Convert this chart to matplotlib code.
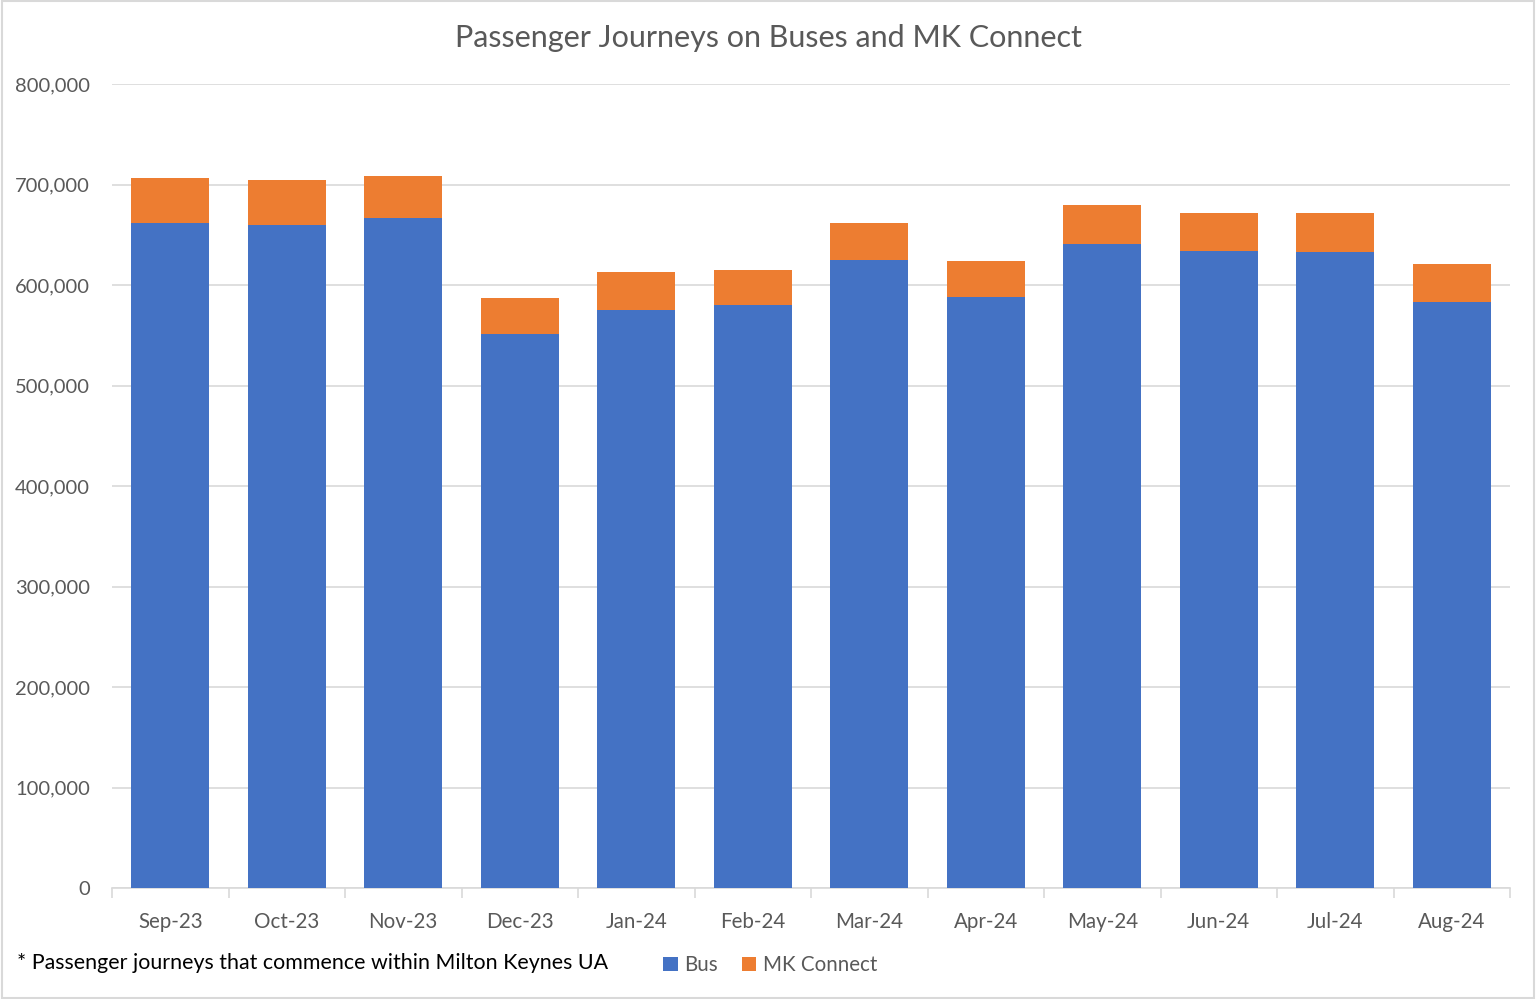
import numpy as np
import matplotlib.pyplot as plt
from matplotlib.ticker import FuncFormatter, FixedLocator
from matplotlib.patches import Rectangle

# data
months = ['Sep-23', 'Oct-23', 'Nov-23', 'Dec-23', 'Jan-24', 'Feb-24',
          'Mar-24', 'Apr-24', 'May-24', 'Jun-24', 'Jul-24', 'Aug-24']
bus = [662000, 660000, 667000, 551000, 575000, 580000,
       625000, 588000, 641000, 634000, 633000, 583000]
mk_connect = [44000, 44000, 41000, 36000, 38000, 35000,
              37000, 36000, 39000, 38000, 39000, 38000]

plt.rcParams['font.family'] = ['Lato', 'DejaVu Sans']

fig = plt.figure(figsize=(15.36, 9.99), dpi=100)
ax = fig.add_axes([112/1536, 1 - 888/999, (1510-112)/1536, (888-84)/999])

x = np.arange(len(months))
ax.bar(x, bus, width=0.67, color='#4472c4', label='Bus', zorder=3)
ax.bar(x, mk_connect, width=0.67, bottom=bus, color='#ed7d31',
       label='MK Connect', zorder=3)

ax.set_xlim(-0.5, len(months) - 0.5)
ax.set_ylim(0, 800000)
ax.set_yticks(np.arange(0, 800001, 100000))
ax.yaxis.set_major_formatter(FuncFormatter(lambda v, p: f'{int(v):,}'))
ax.grid(axis='y', color='#d9d9d9', linewidth=1.2, zorder=0)

ax.set_xticks(x)
ax.set_xticklabels(months)
ax.xaxis.set_minor_locator(FixedLocator(np.arange(-0.5, len(months), 1)))
ax.tick_params(axis='x', which='major', length=0, pad=17,
               labelsize=14.8, labelcolor='#595959')
ax.tick_params(axis='x', which='minor', length=7, color='#d9d9d9', width=1.2)
ax.tick_params(axis='y', length=0, pad=16, labelsize=14.5, labelcolor='#595959')

for s in ['top', 'right', 'left']:
    ax.spines[s].set_visible(False)
ax.spines['bottom'].set_color('#d9d9d9')
ax.spines['bottom'].set_linewidth(1.2)

fig.text(0.5, 1 - 38/999, 'Passenger Journeys on Buses and MK Connect',
         ha='center', va='center', fontsize=22, color='#595959')
fig.text(17/1536, 1 - 963/999, '* Passenger journeys that commence within Milton Keynes UA',
         ha='left', va='center', fontsize=15.4, color='black')

fig.legend(loc='center', bbox_to_anchor=(770/1536, 1 - 965/999), ncol=2,
           frameon=False, fontsize=14.8, labelcolor='#595959',
           handlelength=0.7, handleheight=0.7, handletextpad=0.3,
           columnspacing=1.2)

fig.patches.append(Rectangle((0.001, 0.001), 0.998, 0.998, transform=fig.transFigure,
                             fill=False, edgecolor='#d9d9d9', linewidth=1.5))

fig.savefig('out.png', dpi=100)
